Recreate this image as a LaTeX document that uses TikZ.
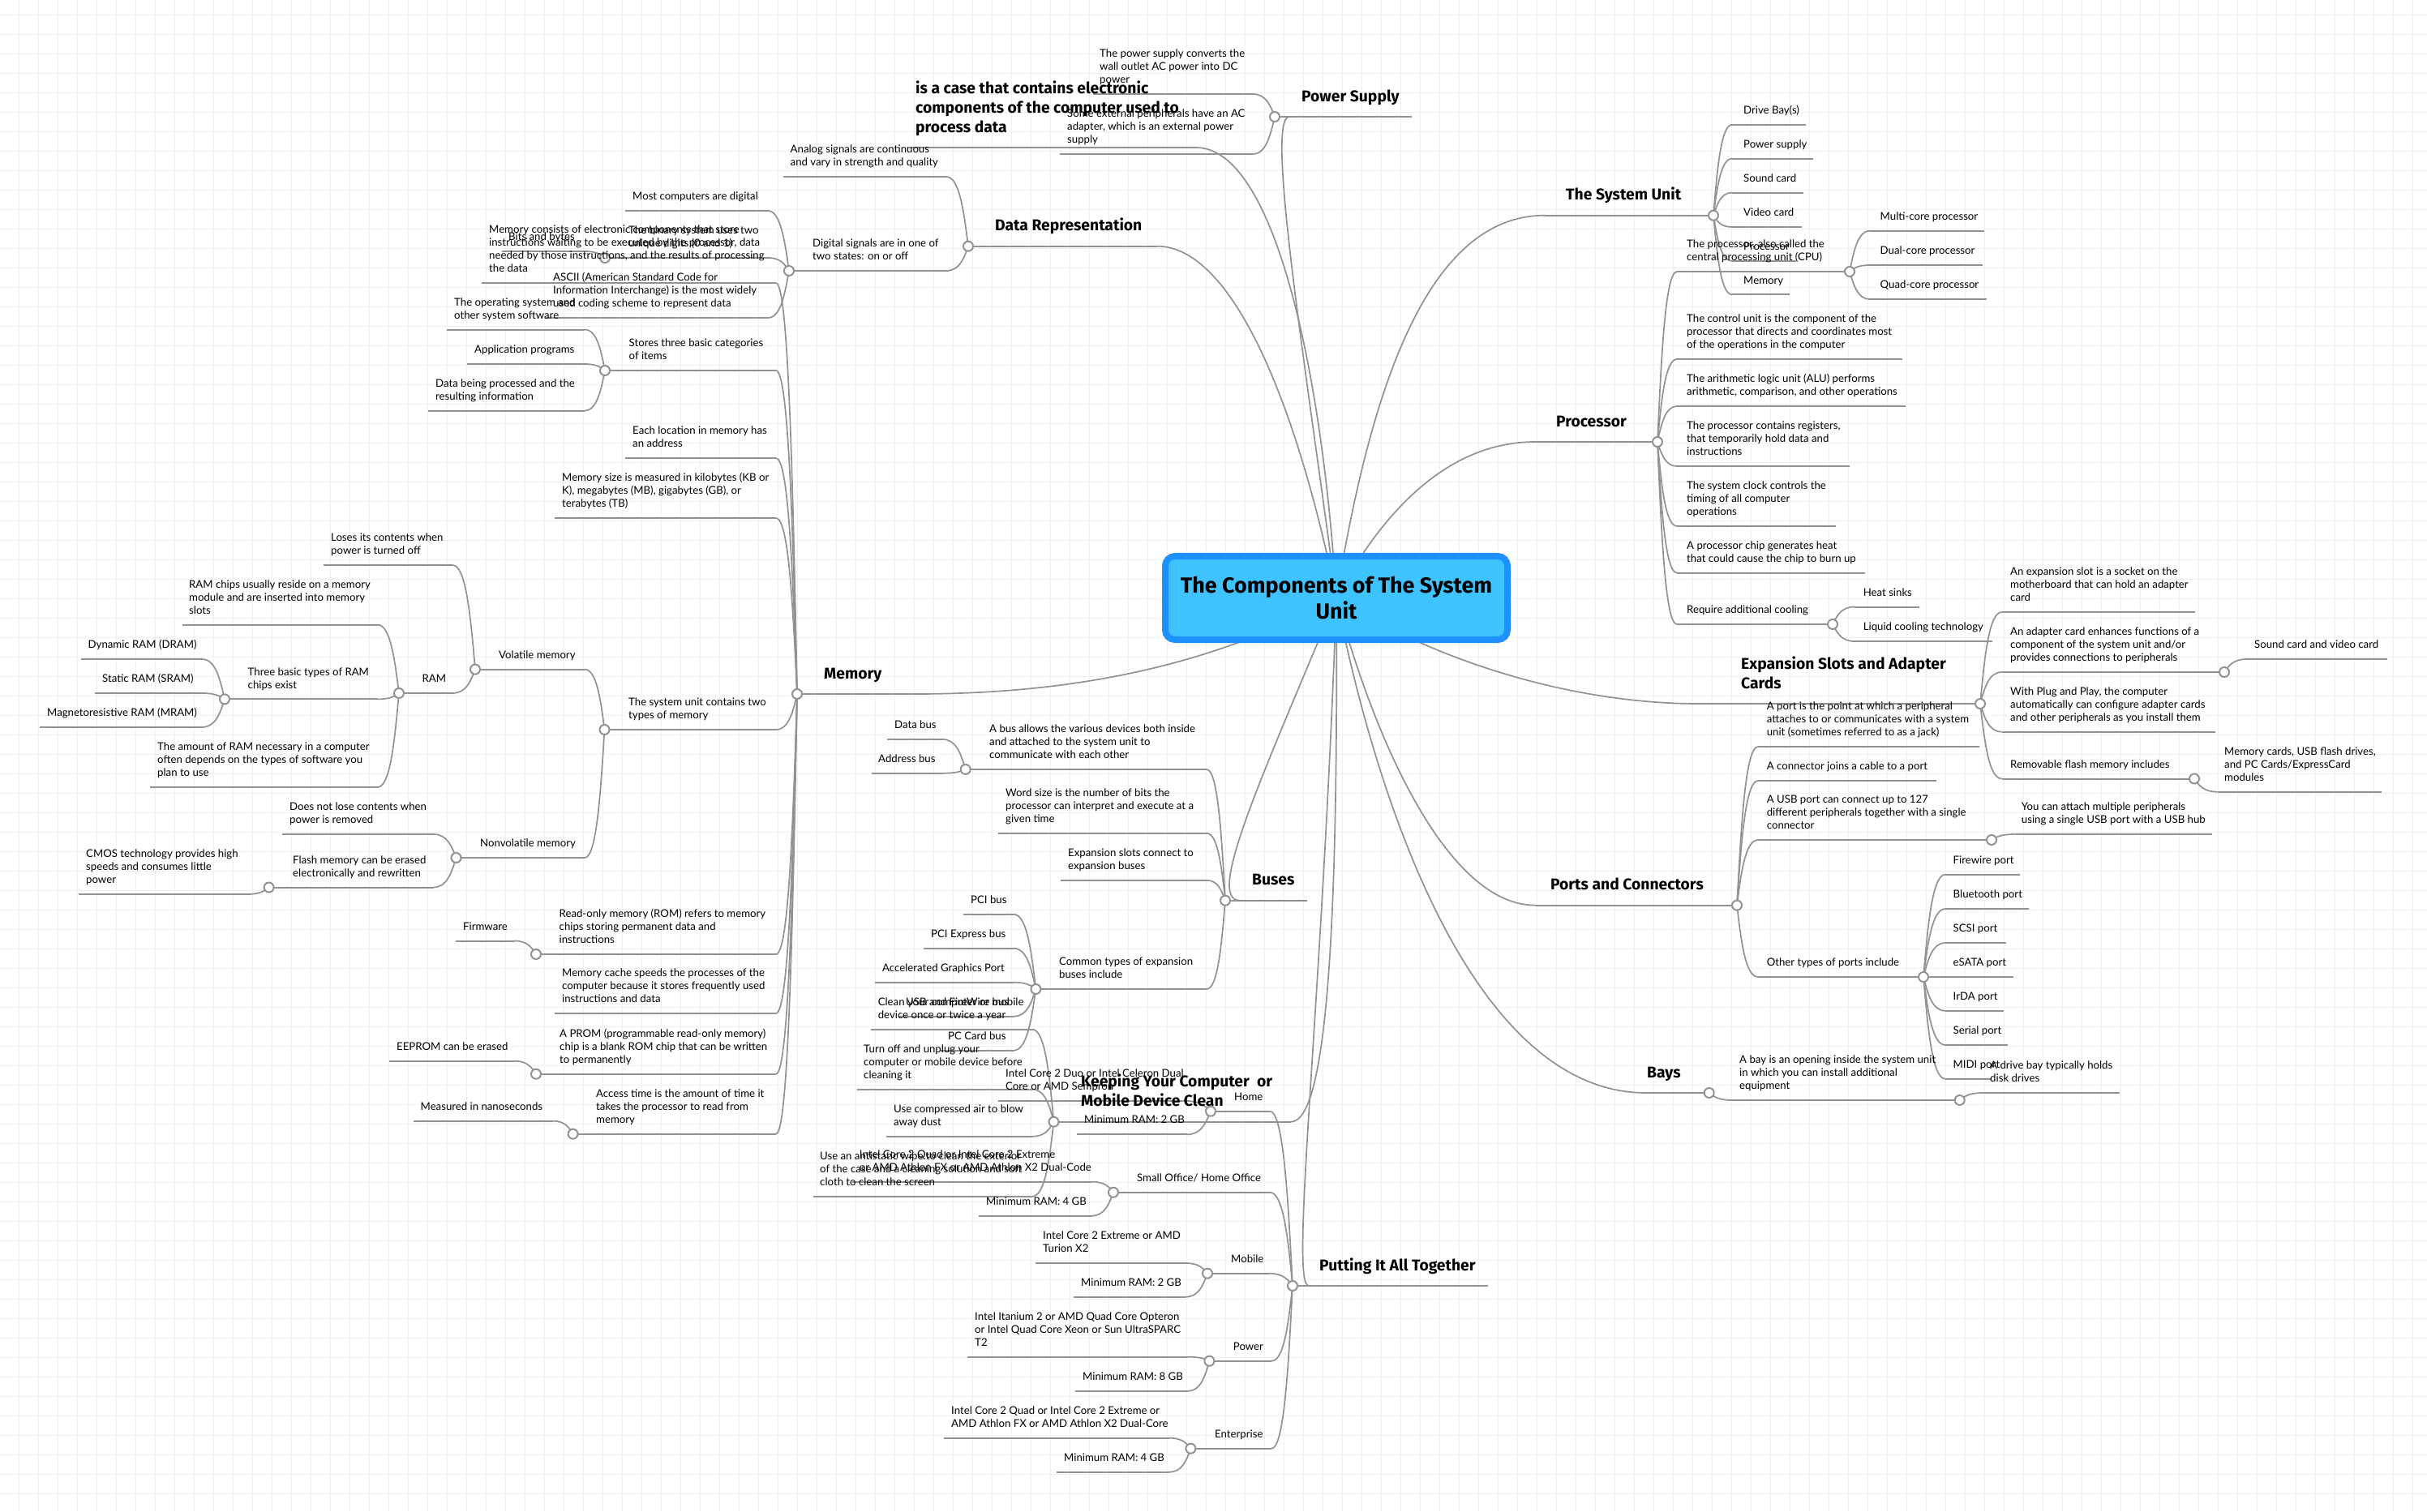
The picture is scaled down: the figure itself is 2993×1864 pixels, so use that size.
\documentclass[tikz,border=0pt]{standalone}
\usepackage{fontspec}
\setmainfont{Lato}
\newfontfamily\headfont{Fira Sans}
\usetikzlibrary{calc,backgrounds}
\definecolor{gridc}{HTML}{EEF4E8}
\definecolor{linec}{HTML}{929292}
\definecolor{rootfill}{HTML}{3FC3FF}
\definecolor{rootedge}{HTML}{1F90FF}
\tikzset{
  x=1pt,y=-1pt,
  rulel/.style={draw=linec,line width=2pt},
  conn/.style={draw=linec,line width=1.7pt},
  lab/.style={anchor=south west,inner sep=0pt,align=left,text=black,font=\fontsize{13.2pt}{16pt}\selectfont,yshift=8.4pt},
  headl/.style={anchor=south west,inner sep=0pt,align=left,text=black,font=\headfont\bfseries\fontsize{19.3pt}{24pt}\selectfont,yshift=11.5pt},
  hubnode/.style={circle,draw=linec,line width=2pt,fill=white,minimum size=12pt,inner sep=0pt},
  rootnode/.style={rectangle,rounded corners=12pt,draw=rootedge,line width=8pt,fill=rootfill,minimum width=422pt,minimum height=103pt,inner sep=0pt,align=center,text=black,font=\headfont\bfseries\fontsize{26.9pt}{32pt}\selectfont}
}
% id, xa, xb, y, text-x, text
\newcommand\mmtopic[6]{%
  \coordinate (#1-a) at (#2,#4);\coordinate (#1-b) at (#3,#4);
  \begin{pgfonlayer}{background}\draw[rulel] (#1-a) -- (#1-b);\end{pgfonlayer}
  \node[lab] (#1) at (#5,#4) {#6\strut};}
\newcommand\mmhead[6]{%
  \coordinate (#1-a) at (#2,#4);\coordinate (#1-b) at (#3,#4);
  \begin{pgfonlayer}{background}\draw[rulel] (#1-a) -- (#1-b);\end{pgfonlayer}
  \node[headl] (#1) at (#5,#4) {#6\strut};}
\newcommand\mmhub[2]{\node[hubnode] (#1-h) at (#1-#2) {};}
\newcommand\mmlink[2]{%
  \begin{pgfonlayer}{background}
  \draw[conn] let \p1=(#1),\p2=(#2) in (\p1) .. controls ({\x1+0.2*(\x2-\x1)},{\y1+0.5*(\y2-\y1)}) and ({\x2+0.6*(\x1-\x2)},\y2) .. (\p2);
  \end{pgfonlayer}}
\newcommand\mmbranch[3]{%
  \begin{pgfonlayer}{background}
  \draw[conn] (root.center) .. controls #2 and #3 .. (#1);
  \end{pgfonlayer}}
\begin{document}
\begin{tikzpicture}
\useasboundingbox (0,0) rectangle (2993,1864);
\begin{pgfonlayer}{background}
  \fill[white] (0,0) rectangle (2993,1864);
  \foreach \k in {0,...,124} {\draw[gridc,line width=1pt] ({23.3+24*\k},0) -- ({23.3+24*\k},1864);}
  \foreach \k in {0,...,77} {\draw[gridc,line width=1pt] (0,{18.5+24*\k}) -- (2993,{18.5+24*\k});}
\end{pgfonlayer}

\node[rootnode] (root) at (1648,737.5) {The Components of The System\\Unit};

% ---------- Power Supply
\mmhead{ps}{1572}{1741}{144}{1605}{Power Supply}\mmhub{ps}{a}
\coordinate (ps-j) at (1590,144);
\mmbranch{ps-j}{(1610,450)}{(1560,144)}
\mmtopic{psa}{1348}{1545}{116}{1356}{The power supply converts the\\wall outlet AC power into DC\\power}
\mmtopic{psb}{1307}{1545}{190}{1316}{Some external peripherals have an AC\\adapter, which is an external power\\supply}
\mmlink{ps-h}{psa-b}\mmlink{ps-h}{psb-b}

% ---------- is a case
\mmhead{cs}{1120}{1475}{182}{1129}{is a case that contains electronic\\components of the computer used to\\process data}
\mmbranch{cs-b}{(1630,450)}{(1570,182)}

% ---------- Data Representation
\mmhead{dr}{1194}{1427}{303.7}{1227}{Data Representation}\mmhub{dr}{a}
\mmbranch{dr-b}{(1600,500)}{(1520,303.7)}
\mmtopic{an}{966}{1167}{218}{974.5}{Analog signals are continuous\\and vary in strength and quality}
\mmtopic{dg}{973}{1167}{334}{1002}{Digital signals are in one of\\two states: on or off}\mmhub{dg}{a}
\mmlink{dr-h}{an-b}\mmlink{dr-h}{dg-b}
\mmtopic{mcd}{771}{947}{260}{780}{Most computers are digital}
\mmtopic{bin}{746}{947}{318}{775}{The binary system uses two\\unique digits (0 and 1)}\mmhub{bin}{a}
\mmtopic{asc}{673}{947}{392}{682}{ASCII (American Standard Code for\\Information Interchange) is the most widely\\used coding scheme to represent data}
\mmlink{dg-h}{mcd-b}\mmlink{dg-h}{bin-b}\mmlink{dg-h}{asc-b}
\mmtopic{bit}{619}{721}{310}{627}{Bits and bytes}
\mmlink{bin-h}{bit-b}

% ---------- Memory
\mmhead{mem}{983}{1127}{856}{1016}{Memory}\mmhub{mem}{a}
\mmbranch{mem-b}{(1480,830)}{(1300,856)}
\mmtopic{mca}{594}{957}{349}{603}{Memory consists of electronic components that store\\instructions waiting to be executed by the processor, data\\needed by those instructions, and the results of processing\\the data}
\mmtopic{sto}{746}{957}{457}{775.5}{Stores three basic categories\\of items}\mmhub{sto}{a}
\mmtopic{loc}{771}{957}{565}{780}{Each location in memory has\\an address}
\mmtopic{siz}{684}{957}{639}{693}{Memory size is measured in kilobytes (KB or\\K), megabytes (MB), gigabytes (GB), or\\terabytes (TB)}
\mmtopic{two}{745.5}{957}{900}{775}{The system unit contains two\\types of memory}\mmhub{two}{a}
\mmtopic{rom}{661}{957}{1177}{689.5}{Read-only memory (ROM) refers to memory\\chips storing permanent data and\\instructions}\mmhub{rom}{a}
\mmtopic{cac}{684}{957}{1250}{693}{Memory cache speeds the processes of the\\computer because it stores frequently used\\instructions and data}
\mmtopic{prm}{661}{957}{1324.7}{690}{A PROM (programmable read-only memory)\\chip is a blank ROM chip that can be written\\to permanently}\mmhub{prm}{a}
\mmtopic{acc}{706.6}{957}{1398.7}{735}{Access time is the amount of time it\\takes the processor to read from\\memory}\mmhub{acc}{a}
\mmlink{mem-h}{mca-b}\mmlink{mem-h}{sto-b}\mmlink{mem-h}{loc-b}\mmlink{mem-h}{siz-b}\mmlink{mem-h}{two-b}\mmlink{mem-h}{rom-b}\mmlink{mem-h}{cac-b}\mmlink{mem-h}{prm-b}\mmlink{mem-h}{acc-b}
\mmtopic{osy}{551}{721}{406.5}{560}{The operating system and\\other system software}
\mmtopic{app}{576}{721}{449}{585}{Application programs}
\mmtopic{dat}{528}{721}{506.5}{537}{Data being processed and the\\resulting information}
\mmlink{sto-h}{osy-b}\mmlink{sto-h}{app-b}\mmlink{sto-h}{dat-b}
\mmtopic{vol}{586}{721}{825.6}{615}{Volatile memory}\mmhub{vol}{a}
\mmtopic{nvl}{562.5}{721}{1058}{592}{Nonvolatile memory}\mmhub{nvl}{a}
\mmlink{two-h}{vol-b}\mmlink{two-h}{nvl-b}
\mmtopic{los}{399}{558}{697}{408}{Loses its contents when\\power is turned off}
\mmtopic{ram}{492}{558}{855}{520.5}{RAM}\mmhub{ram}{a}
\mmlink{vol-h}{los-b}\mmlink{vol-h}{ram-b}
\mmtopic{rch}{224.5}{465.5}{770.6}{233}{RAM chips usually reside on a memory\\module and are inserted into memory\\slots}
\mmtopic{thr}{277}{465.5}{862.4}{305.5}{Three basic types of RAM\\chips exist}\mmhub{thr}{a}
\mmtopic{amt}{185}{465.5}{971}{194}{The amount of RAM necessary in a computer\\often depends on the types of software you\\plan to use}
\mmlink{ram-h}{rch-b}\mmlink{ram-h}{thr-b}\mmlink{ram-h}{amt-b}
\mmtopic{drm}{100}{249}{813}{108.5}{Dynamic RAM (DRAM)}
\mmtopic{srm}{117}{249}{855}{126}{Static RAM (SRAM)}
\mmtopic{mrm}{49}{249}{897}{58}{Magnetoresistive RAM (MRAM)}
\mmlink{thr-h}{drm-b}\mmlink{thr-h}{srm-b}\mmlink{thr-h}{mrm-b}
\mmtopic{dnl}{348}{534.5}{1029}{357}{Does not lose contents when\\power is removed}
\mmtopic{fla}{331.6}{534.5}{1094.5}{361}{Flash memory can be erased\\electronically and rewritten}\mmhub{fla}{a}
\mmlink{nvl-h}{dnl-b}\mmlink{nvl-h}{fla-b}
\mmtopic{cmo}{97}{305}{1103}{106}{CMOS technology provides high\\speeds and consumes little\\power}
\mmlink{fla-h}{cmo-b}
\mmtopic{fir}{562}{634.5}{1160.5}{571}{Firmware}
\mmlink{rom-h}{fir-b}
\mmtopic{eep}{480}{634.5}{1308.7}{489}{EEPROM can be erased}
\mmlink{prm-h}{eep-b}
\mmtopic{nan}{510}{682}{1382.7}{518.5}{Measured in nanoseconds}
\mmlink{acc-h}{nan-b}

% ---------- Buses
\mmhead{bus}{1511}{1612}{1110.7}{1544}{Buses}\mmhub{bus}{a}
\coordinate (bus-j) at (1529,1110.7);
\mmbranch{bus-j}{(1560,950)}{(1485,1110.7)}
\mmtopic{bal}{1190.7}{1488}{949}{1220}{A bus allows the various devices both inside\\and attached to the system unit to\\communicate with each other}\mmhub{bal}{a}
\mmtopic{wrd}{1231}{1488}{1027.7}{1240}{Word size is the number of bits the\\processor can interpret and execute at a\\given time}
\mmtopic{exb}{1308}{1488}{1085.8}{1317}{Expansion slots connect to\\expansion buses}
\mmtopic{com}{1277.4}{1488}{1220}{1306}{Common types of expansion\\buses include}\mmhub{com}{a}
\mmlink{bus-h}{bal-b}\mmlink{bus-h}{wrd-b}\mmlink{bus-h}{exb-b}\mmlink{bus-h}{com-b}
\mmtopic{dbu}{1094}{1162.6}{912}{1103}{Data bus}
\mmtopic{abu}{1074.6}{1162.6}{953.7}{1083}{Address bus}
\mmlink{bal-h}{dbu-b}\mmlink{bal-h}{abu-b}
\mmtopic{pci}{1187.8}{1250}{1127.7}{1197}{PCI bus}
\mmtopic{pce}{1139}{1250}{1169.7}{1148}{PCI Express bus}
\mmtopic{agp}{1079}{1250}{1211.7}{1088}{Accelerated Graphics Port}
\mmtopic{usb}{1108}{1250}{1253.7}{1117}{USB and FireWire bus}
\mmtopic{pcc}{1160}{1250}{1295.7}{1169}{PC Card bus}
\mmlink{com-h}{pci-b}\mmlink{com-h}{pce-b}\mmlink{com-h}{agp-b}\mmlink{com-h}{usb-b}\mmlink{com-h}{pcc-b}

% ---------- Keeping clean
\mmhead{kp}{1299.5}{1592}{1383.7}{1333}{Keeping Your Computer\ \ or\\Mobile Device Clean}\mmhub{kp}{a}
\mmbranch{kp-b}{(1650,1100)}{(1640,1383.7)}
\mmtopic{kcl}{1074}{1273}{1269.7}{1082.6}{Clean your computer or mobile\\device once or twice a year}
\mmtopic{kto}{1057}{1273}{1343.7}{1065}{Turn off and unplug your\\computer or mobile device before\\cleaning it}
\mmtopic{kuc}{1093}{1273}{1401.7}{1102}{Use compressed air to blow\\away dust}
\mmtopic{kua}{1002.5}{1273}{1475.7}{1011}{Use an antistatic wipe to clean the exterior\\of the case and a cleaning solution and soft\\cloth to clean the screen}
\mmlink{kp-h}{kcl-b}\mmlink{kp-h}{kto-b}\mmlink{kp-h}{kuc-b}\mmlink{kp-h}{kua-b}

% ---------- Putting It All Together
\mmhead{pt}{1594}{1835}{1586}{1627}{Putting It All Together}\mmhub{pt}{a}
\coordinate (pt-j) at (1614,1586);
\mmbranch{pt-j}{(1630,1250)}{(1590,1586)}
\mmtopic{hom}{1493}{1566}{1370.7}{1522}{Home}\mmhub{hom}{a}
\mmtopic{sof}{1373}{1566}{1470.7}{1402}{Small Office/ Home Office}\mmhub{sof}{a}
\mmtopic{mob}{1489}{1565}{1570.7}{1518}{Mobile}\mmhub{mob}{a}
\mmtopic{pow}{1491.4}{1568}{1678.7}{1520.7}{Power}\mmhub{pow}{a}
\mmtopic{ent}{1468.4}{1568}{1786.7}{1498}{Enterprise}\mmhub{ent}{a}
\mmlink{pt-h}{hom-b}\mmlink{pt-h}{sof-b}\mmlink{pt-h}{mob-b}\mmlink{pt-h}{pow-b}\mmlink{pt-h}{ent-b}
\mmtopic{hoa}{1231}{1459}{1357.7}{1240}{Intel Core 2 Duo or Intel Celeron Dual\\Core or AMD Sempron}
\mmtopic{hob}{1328}{1464}{1399.3}{1337}{Minimum RAM: 2 GB}
\mmlink{hom-h}{hoa-b}\mmlink{hom-h}{hob-b}
\mmtopic{soa}{1051}{1347}{1457.7}{1059.7}{Intel Core 2 Quad or Intel Core 2 Extreme\\or AMD Athlon FX or AMD Athlon X2 Dual-Code}
\mmtopic{sob}{1207}{1346}{1499.7}{1216}{Minimum RAM: 4 GB}
\mmlink{sof-h}{soa-b}\mmlink{sof-h}{sob-b}
\mmtopic{moa}{1277}{1462}{1558}{1286}{Intel Core 2 Extreme or AMD\\Turion X2}
\mmtopic{mob2}{1324}{1462}{1599.7}{1333}{Minimum RAM: 2 GB}
\mmlink{mob-h}{moa-b}\mmlink{mob-h}{mob2-b}
\mmtopic{poa}{1193}{1465}{1673.7}{1202}{Intel Itanium 2 or AMD Quad Core Opteron\\or Intel Quad Core Xeon or Sun UltraSPARC\\T2}
\mmtopic{pob}{1326}{1465}{1715.7}{1335}{Minimum RAM: 8 GB}
\mmlink{pow-h}{poa-b}\mmlink{pow-h}{pob-b}
\mmtopic{ena}{1164}{1442}{1773.7}{1173}{Intel Core 2 Quad or Intel Core 2 Extreme or\\AMD Athlon FX or AMD Athlon X2 Dual-Core}
\mmtopic{enb}{1303}{1442}{1815.7}{1312}{Minimum RAM: 4 GB}
\mmlink{ent-h}{ena-b}\mmlink{ent-h}{enb-b}

% ---------- The System Unit
\mmhead{su}{1905}{2113}{265.7}{1931}{The System Unit}\mmhub{su}{b}
\mmbranch{su-a}{(1690,480)}{(1760,265.7)}
\mmtopic{sua}{2136}{2227}{153.8}{2150}{Drive Bay(s)}
\mmtopic{sub}{2136}{2235.6}{195.7}{2150}{Power supply}
\mmtopic{suc}{2136}{2224}{237.6}{2150}{Sound card}
\mmtopic{sud}{2136}{2221.6}{280}{2150}{Video card}
\mmtopic{sue}{2136}{2215}{322}{2150}{Processor}
\mmtopic{suf}{2136}{2206.5}{363.4}{2150}{Memory}
\mmlink{su-h}{sua-a}\mmlink{su-h}{sub-a}\mmlink{su-h}{suc-a}\mmlink{su-h}{sud-a}\mmlink{su-h}{sue-a}\mmlink{su-h}{suf-a}

% ---------- Processor
\mmhead{pr}{1893}{2044}{545}{1919}{Processor}\mmhub{pr}{b}
\mmbranch{pr-a}{(1700,640)}{(1780,545)}
\mmtopic{pra}{2068}{2281}{335}{2080}{The processor, also called the\\central processing unit (CPU)}\mmhub{pra}{b}
\mmtopic{prb}{2068}{2346}{443}{2080}{The control unit is the component of the\\processor that directs and coordinates most\\of the operations in the computer}
\mmtopic{prc}{2068}{2350}{501}{2080}{The arithmetic logic unit (ALU) performs\\arithmetic, comparison, and other operations}
\mmtopic{prd}{2068}{2281}{575}{2080}{The processor contains registers,\\that temporarily hold data and\\instructions}
\mmtopic{pre}{2068}{2263.5}{649}{2080}{The system clock controls the\\timing of all computer\\operations}
\mmtopic{prf}{2068}{2299.5}{706.6}{2080}{A processor chip generates heat\\that could cause the chip to burn up}
\mmtopic{prg}{2068}{2260}{770}{2080}{Require additional cooling}\mmhub{prg}{b}
\mmlink{pr-h}{pra-a}\mmlink{pr-h}{prb-a}\mmlink{pr-h}{prc-a}\mmlink{pr-h}{prd-a}\mmlink{pr-h}{pre-a}\mmlink{pr-h}{prf-a}\mmlink{pr-h}{prg-a}
\mmtopic{cra}{2306}{2447}{284.7}{2318.5}{Multi-core processor}
\mmtopic{crb}{2306}{2444.6}{327}{2318.5}{Dual-core processor}
\mmtopic{crc}{2306}{2450}{369}{2318.5}{Quad-core processor}
\mmlink{pra-h}{cra-a}\mmlink{pra-h}{crb-a}\mmlink{pra-h}{crc-a}
\mmtopic{cla}{2287}{2366.7}{748.5}{2297.6}{Heat sinks}
\mmtopic{clb}{2287}{2456.6}{791}{2297.6}{Liquid cooling technology}
\mmlink{prg-h}{cla-a}\mmlink{prg-h}{clb-a}

% ---------- Expansion Slots
\mmhead{ex}{2095}{2442}{868}{2147}{Expansion Slots and Adapter\\Cards}\mmhub{ex}{b}
\mmbranch{ex-a}{(1760,810)}{(1930,868)}
\mmtopic{exa}{2468.6}{2707}{755}{2479}{An expansion slot is a socket on the\\motherboard that can hold an adapter\\card}
\mmtopic{exc}{2468.6}{2743}{829}{2479}{An adapter card enhances functions of a\\component of the system unit and/or\\provides connections to peripherals}\mmhub{exc}{b}
\mmtopic{exd}{2468.6}{2731.5}{902.7}{2479}{With Plug and Play, the computer\\automatically can configure adapter cards\\and other peripherals as you install them}
\mmtopic{exe}{2468.6}{2706}{960.5}{2479}{Removable flash memory includes}\mmhub{exe}{b}
\mmlink{ex-h}{exa-a}\mmlink{ex-h}{exc-a}\mmlink{ex-h}{exd-a}\mmlink{ex-h}{exe-a}
\mmtopic{exf}{2771}{2943.6}{813}{2780}{Sound card and video card}
\mmlink{exc-h}{exf-a}
\mmtopic{exg}{2734.6}{2936.7}{976.7}{2743}{Memory cards, USB flash drives,\\and PC Cards/ExpressCard\\modules}
\mmlink{exe-h}{exg-a}

% ---------- Ports and Connectors
\mmhead{po}{1893}{2142}{1116.6}{1912}{Ports and Connectors}\mmhub{po}{b}
\mmbranch{po-a}{(1700,930)}{(1790,1116.6)}
\mmtopic{poA}{2168}{2441}{921}{2178.6}{A port is the point at which a peripheral\\attaches to or communicates with a system\\unit (sometimes referred to as a jack)}
\mmtopic{poB}{2168}{2387.6}{963}{2178.6}{A connector joins a cable to a port}
\mmtopic{poC}{2168}{2456}{1036}{2178.6}{A USB port can connect up to 127\\different peripherals together with a single\\connector}\mmhub{poC}{b}
\mmtopic{poD}{2168}{2372}{1205}{2178.6}{Other types of ports include}\mmhub{poD}{b}
\mmlink{po-h}{poA-a}\mmlink{po-h}{poB-a}\mmlink{po-h}{poC-a}\mmlink{po-h}{poD-a}
\mmtopic{poE}{2484.5}{2727.7}{1029}{2492.7}{You can attach multiple peripherals\\using a single USB port with a USB hub}
\mmlink{poC-h}{poE-a}
\mmtopic{pa}{2399}{2491}{1078.7}{2408.5}{Firewire port}
\mmtopic{pb}{2399}{2502}{1121}{2408.5}{Bluetooth port}
\mmtopic{pc}{2399}{2473.7}{1163}{2408.5}{SCSI port}
\mmtopic{pd}{2399}{2483}{1205}{2408.5}{eSATA port}
\mmtopic{pe}{2399}{2470.5}{1246.8}{2408.5}{IrDA port}
\mmtopic{pf}{2399}{2476}{1289}{2408.5}{Serial port}
\mmtopic{pg}{2399}{2456}{1330.7}{2408.5}{MIDI port}
\mmlink{poD-h}{pa-a}\mmlink{poD-h}{pb-a}\mmlink{poD-h}{pc-a}\mmlink{poD-h}{pd-a}\mmlink{poD-h}{pe-a}\mmlink{poD-h}{pf-a}\mmlink{poD-h}{pg-a}

% ---------- Bays
\mmhead{by}{2030}{2107.7}{1348}{2031}{Bays}\mmhub{by}{b}
\mmbranch{by-a}{(1700,1000)}{(1820,1348)}
\mmtopic{bya}{2136}{2416.7}{1357}{2145}{A bay is an opening inside the system unit\\in which you can install additional\\equipment}\mmhub{bya}{b}
\mmlink{by-h}{bya-a}
\mmtopic{byb}{2445}{2613.7}{1348}{2454}{A drive bay typically holds\\disk drives}
\mmlink{bya-h}{byb-a}
\end{tikzpicture}
\end{document}
